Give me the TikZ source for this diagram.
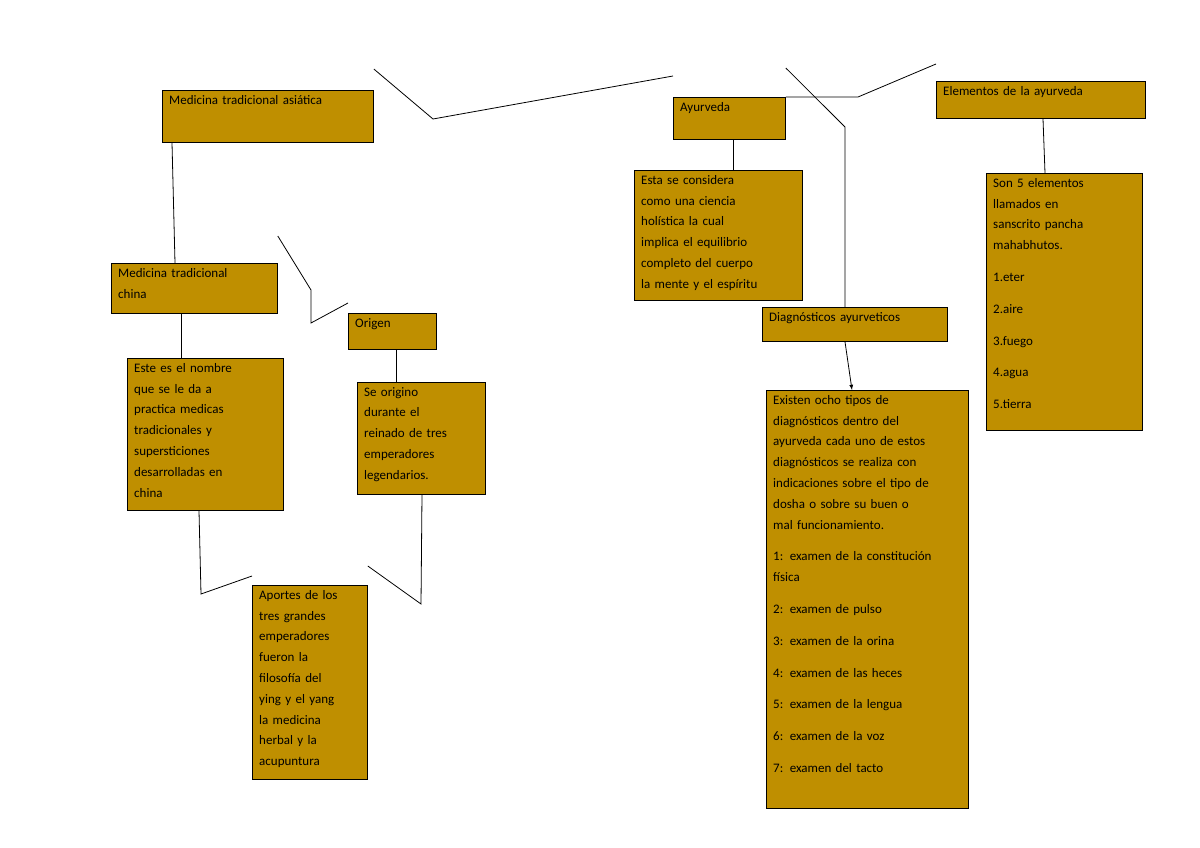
\documentclass[tikz,border=0pt]{standalone}
\usepackage{fontspec}
\setmainfont{Carlito}
\usetikzlibrary{calc}
\definecolor{boxc}{HTML}{BF8F00}
\newcommand\bx[6]{%
  \pgfmathsetmacro\ww{#4-#2}\pgfmathsetmacro\hh{#5-#3}\pgfmathsetmacro\tw{#4-#2-14}%
  \node[box,minimum width=\ww pt,minimum height=\hh pt,anchor=north west] (#1) at (#2,#3) {};
  \node[txt,text width=\tw pt] (#1t) at ($(#1.north west)+(7,5)$) {#6};}
\begin{document}
\begin{tikzpicture}[x=1pt,y=-1pt,
  box/.style={draw=black,fill=boxc,line width=0.8pt,inner sep=0pt},
  txt/.style={anchor=north west,align=left,inner sep=0pt,font=\fontsize{13}{20.8}\selectfont},
  con/.style={draw=black,line width=0.8pt}]
\useasboundingbox (0,0) rectangle (1200,848);
\bx{asia}{162}{90}{373}{142}{Medicina tradicional asiática}
\bx{ayur}{673}{97}{785}{139}{Ayurveda}
\bx{elem}{936}{81}{1145}{118}{Elementos de la ayurveda}
\bx{cien}{634}{170}{802}{300}{Esta se considera\\como una ciencia\\holística la cual\\implica el equilibrio\\completo del cuerpo\\la mente y el espíritu}
\bx{cinco}{986}{173}{1142}{430}{Son 5 elementos\\llamados en\\sanscrito pancha\\mahabhutos.\\[11pt]1.eter\\[11pt]2.aire\\[11pt]3.fuego\\[11pt]4.agua\\[11pt]5.tierra}
\bx{china}{111}{263}{277}{313}{Medicina tradicional\\china}
\bx{orig}{348}{313}{436}{349}{Origen}
\bx{diag}{762}{307}{947}{341}{Diagnósticos ayurveticos}
\bx{este}{127}{358}{283}{510}{Este es el nombre\\que se le da a\\practica medicas\\tradicionales y\\supersticiones\\desarrolladas en\\china}
\bx{seor}{357}{382}{485}{494}{Se origino\\durante el\\reinado de tres\\emperadores\\legendarios.}
\bx{ocho}{766}{390}{968}{808}{Existen ocho tipos de\\diagnósticos dentro del\\ayurveda cada uno de estos\\diagnósticos se realiza con\\indicaciones sobre el tipo de\\dosha o sobre su buen o\\mal funcionamiento.\\[11pt]1: examen de la constitución\\física\\[11pt]2: examen de pulso\\[11pt]3: examen de la orina\\[11pt]4: examen de las heces\\[11pt]5: examen de la lengua\\[11pt]6: examen de la voz\\[11pt]7: examen del tacto}
\bx{apor}{252}{585}{367}{779}{Aportes de los\\tres grandes\\emperadores\\fueron la\\filosofía del\\ying y el yang\\la medicina\\herbal y la\\acupuntura}
% connectors
\draw[con] ([yshift=21]asia.north east) -- (433,119) -- ([yshift=21]ayur.north west);
\draw[con] (ayur.north east) -- (858,97) -- ([yshift=17]elem.north west);
\draw[con] ([xshift=60]ayur.south west) -- ([xshift=99]cien.north west);
\draw[con] ([yshift=29]ayur.north east) -- (845,127) -- ([xshift=83]diag.north west);
\draw[con,-latex] ([xshift=83]diag.south west) -- ([xshift=86]ocho.north west);
\draw[con] ([xshift=107]elem.south west) -- ([xshift=59]cinco.north west);
\draw[con] ([xshift=10]asia.south west) -- ([xshift=64]china.north west);
\draw[con] ([yshift=27]china.north east) -- (311,290) -- (311,323) -- ([yshift=10]orig.north west);
\draw[con] ([xshift=70]china.south west) -- ([xshift=54]este.north west);
\draw[con] ([xshift=48]orig.south west) -- ([xshift=39]seor.north west);
\draw[con] ([xshift=72]este.south west) -- (201,594) -- ([yshift=9]apor.north west);
\draw[con] ([xshift=65]seor.south west) -- (421,604) -- ([yshift=19]apor.north east);
\end{tikzpicture}
\end{document}
